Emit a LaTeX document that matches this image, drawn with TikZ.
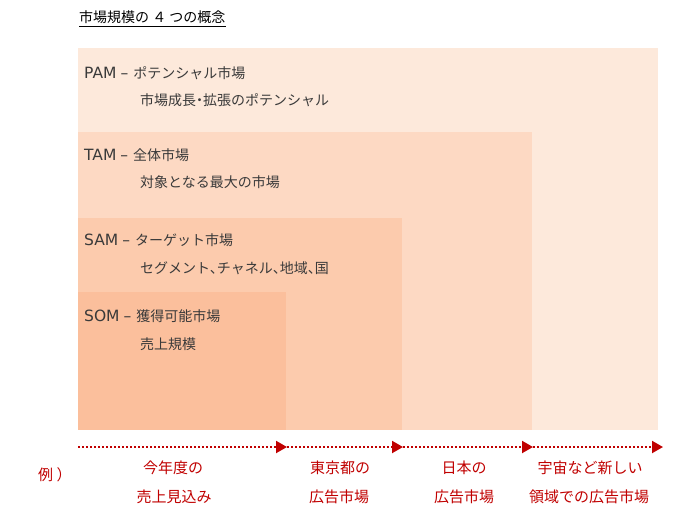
\documentclass[tikz,border=0pt]{standalone}
\usepackage{fontspec}
\setmainfont{Noto Sans CJK JP}[RawFeature=+halt]
\newfontfamily\latinfont{DejaVu Sans}
\usetikzlibrary{arrows.meta}
\definecolor{pamfill}{HTML}{FDE9DB}
\definecolor{tamfill}{HTML}{FDD9C3}
\definecolor{samfill}{HTML}{FCCBAD}
\definecolor{somfill}{HTML}{FBBF9C}
\definecolor{textgray}{HTML}{3A3A3A}
\definecolor{exred}{HTML}{C00000}
\newcommand{\mkt}[1]{{\latinfont\fontsize{15.5}{17}\selectfont #1\hspace{4pt}–\hspace{5pt}}}
\tikzset{
  boxlabel/.style={anchor=west, inner sep=0pt, text=textgray, font=\fontsize{14}{16}\selectfont},
  exlabel/.style={anchor=center, inner sep=0pt, text=exred, font=\fontsize{15}{17}\selectfont},
  dotarrow/.style={exred, line width=2pt, dash pattern=on 2pt off 2pt, -{Triangle[length=11pt, width=12pt]}}
}
\begin{document}
\begin{tikzpicture}[x=1pt, y=-1pt]
        \useasboundingbox (0,0) rectangle (676,516);

        % title
        \node[anchor=west, inner sep=0pt, font=\fontsize{14}{16}\selectfont] (title) at (79,17) {市場規模の ４ つの概念};
        \draw[black, line width=1.2pt] ([yshift=-2.5pt]title.south west) -- ([yshift=-2.5pt]title.south east);

        % nested markets
        \fill[pamfill] (78,48) rectangle (658,430);
        \fill[tamfill] (78,132) rectangle (532,430);
        \fill[samfill] (78,218) rectangle (402,430);
        \fill[somfill] (78,292) rectangle (286,430);

        \node[boxlabel] (pam) at (84,73) {\mkt{PAM}ポテンシャル市場};
        \node[boxlabel] (pamsub) at (140,100) {市場成長・拡張のポテンシャル};
        \node[boxlabel] (tam) at (84,155) {\mkt{TAM}全体市場};
        \node[boxlabel] (tamsub) at (140,182) {対象となる最大の市場};
        \node[boxlabel] (sam) at (84,240) {\mkt{SAM}ターゲット市場};
        \node[boxlabel] (samsub) at (140,268) {セグメント、チャネル、地域、国};
        \node[boxlabel] (som) at (84,316) {\mkt{SOM}獲得可能市場};
        \node[boxlabel] (somsub) at (140,344) {売上規模};

        % example scale
        \coordinate (p0) at (78,447);
        \coordinate (p1) at (287,447);
        \coordinate (p2) at (403,447);
        \coordinate (p3) at (533,447);
        \coordinate (p4) at (663,447);
        \draw[dotarrow] (p0) -- (p1);
        \draw[dotarrow] (p1) -- (p2);
        \draw[dotarrow] (p2) -- (p3);
        \draw[dotarrow] (p3) -- (p4);

        \node[exlabel, anchor=west] (rei) at (38,475) {例 ）};
        \node[exlabel] (ex1a) at (173,468) {今年度の};
        \node[exlabel] (ex1b) at (174,497) {売上見込み};
        \node[exlabel] (ex2a) at (340,468) {東京都の};
        \node[exlabel] (ex2b) at (339,497) {広告市場};
        \node[exlabel] (ex3a) at (464,468) {日本の};
        \node[exlabel] (ex3b) at (464,497) {広告市場};
        \node[exlabel] (ex4a) at (590,468) {宇宙など新しい};
        \node[exlabel] (ex4b) at (589,497) {領域での広告市場};
    \end{tikzpicture}
\end{document}
